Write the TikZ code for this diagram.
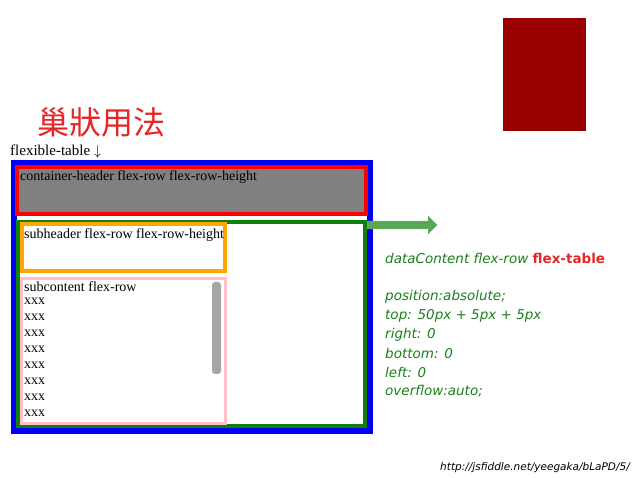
\documentclass[tikz,border=0pt]{standalone}
\usepackage{fontspec}
\setmainfont{Liberation Serif}
\newfontfamily\cjk{Noto Sans CJK SC}
\newfontfamily\slide{DejaVu Sans}
\usetikzlibrary{shapes.arrows}

\definecolor{dred}{rgb}{0.60,0.00,0.00}
\definecolor{tred}{rgb}{0.90,0.15,0.15}
\definecolor{bblue}{rgb}{0.00,0.00,0.95}
\definecolor{bgreen}{rgb}{0.05,0.50,0.05}
\definecolor{borange}{rgb}{1.00,0.65,0.00}
\definecolor{bpink}{rgb}{1.00,0.75,0.80}
\definecolor{tgreen}{rgb}{0.10,0.50,0.10}
\definecolor{agreen}{rgb}{0.35,0.65,0.35}

\begin{document}
\begin{tikzpicture}[x=1pt,y=-1pt,
  htext/.style={anchor=north west,inner sep=0pt,font=\fontsize{14}{14}\selectfont},
  ctext/.style={anchor=west,inner sep=0pt,text=tgreen,font=\slide\itshape\fontsize{13.5}{13.5}\selectfont}]
\useasboundingbox (0,0) rectangle (638,478);

    % decoration and title
    \fill[dred] (503,18) rectangle (586,131);
    \node[anchor=west,inner sep=0pt,text=tred,font=\cjk\fontsize{32}{32}\selectfont] (title) at (37,122) {巢狀用法};
    \node[anchor=west,inner sep=0pt,font=\fontsize{15}{15}\selectfont] (flex) at (10,152) {flexible-table $\downarrow$};

    % boxes
    \draw[bblue,line width=6pt] (14,163) rectangle (370,431);
    \draw[red,line width=4pt,fill=gray] (17,167) rectangle (366,214);
    \draw[bgreen,line width=4pt,fill=white] (18,222) rectangle (365,426);
    \draw[borange,line width=4pt] (22,224) rectangle (225,271);
    \draw[bpink,line width=3pt] (21.5,278.5) rectangle (225.5,424);
    \fill[gray!70,rounded corners=3pt] (212,282) rectangle (221,374);

    \node[htext] (hdr) at (20,170) {container-header flex-row flex-row-height};
    \node[htext] (sub) at (24,228) {subheader flex-row flex-row-height};
    \node[htext] (cnt) at (24,281) {subcontent flex-row};
    \foreach \i in {0,...,7}{
      \node[htext] (x\i) at (24,298+\i*16) {xxx};
    }

    % arrow and notes
    \node[single arrow,fill=agreen,draw=bgreen!60,minimum height=70pt,minimum width=18pt,
          single arrow head extend=3pt,inner sep=2pt,anchor=west] (arr) at (367,225) {};
    \node[ctext] (dc) at (385,258) {dataContent flex-row \textcolor{tred}{\upshape\bfseries flex-table}};
    \node[ctext] (c1) at (385,297) {position:absolute;};
    \node[ctext] (c2) at (385,316) {top: 50px + 5px + 5px};
    \node[ctext] (c3) at (385,335) {right: 0};
    \node[ctext] (c4) at (385,353) {bottom: 0};
    \node[ctext] (c5) at (385,372) {left: 0};
    \node[ctext] (c6) at (385,391) {overflow:auto;};
    \node[anchor=east,inner sep=0pt,font=\slide\itshape\fontsize{10.5}{10.5}\selectfont] (url) at (630,468) {http://jsfiddle.net/yeegaka/bLaPD/5/};

\end{tikzpicture}
\end{document}
